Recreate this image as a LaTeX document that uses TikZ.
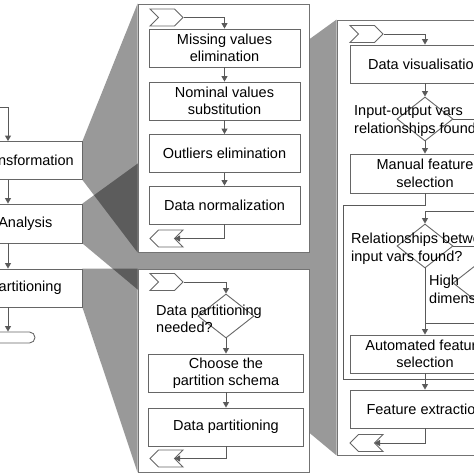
\documentclass[tikz,border=0pt]{standalone}
\usepackage{fontspec}
\setmainfont{Liberation Sans}
\usetikzlibrary{shapes.geometric,shapes.symbols,arrows.meta,backgrounds}
\begin{document}
\begin{tikzpicture}[x=1pt,y=-1pt,
		font=\fontsize{14.5}{17.5}\selectfont,
		box/.style={draw=black!60, line width=0.9pt, fill=white, text=black, minimum height=38pt, align=center, inner sep=0pt},
		panel/.style={draw=black!55, line width=0.9pt, fill=white, inner sep=0pt},
		cond/.style={diamond, draw=black!60, line width=0.9pt, minimum width=56pt, minimum height=44pt, inner sep=0pt},
		qtext/.style={anchor=west, align=left, text=black, inner sep=0pt},
		begsig/.style={signal, signal to=east, signal from=west, draw=black!60, line width=0.9pt, fill=white, minimum width=33pt, minimum height=17pt, inner sep=0pt},
		endsig/.style={signal, signal to=west, signal from=east, draw=black!60, line width=0.9pt, fill=white, minimum width=33pt, minimum height=17pt, inner sep=0pt},
		flow/.style={draw=black!65, line width=0.9pt, -{Triangle[width=6pt,length=5.5pt]}},
		wire/.style={draw=black!65, line width=0.9pt},
		shade/.style={fill=black, fill opacity=0.4}]
		\useasboundingbox (0,0) rectangle (474,474);
		\clip (0,0) rectangle (474,474);

		% main flow
		\node[box, minimum width=148pt] (trans) at (8,160.5) {Data Transformation};
		\node[box, minimum width=148pt, minimum height=39pt] (anal) at (8,223.5) {Data Analysis};
		\node[box, minimum width=148pt] (part) at (8,288) {Data Partitioning};
		\node[draw=black!60, line width=0.9pt, rounded corners=5.5pt, minimum width=54pt, minimum height=11pt, inner sep=0pt] (stop) at (8,337.5) {};
		\coordinate (in0) at (-20,107);
		\draw[flow] (in0) -| (trans.north);
		\draw[flow] (trans) -- (anal);
		\draw[flow] (anal) -- (part);
		\draw[flow] (part) -- (stop);

		% detail panels
		\node[panel, minimum width=171pt, minimum height=248pt] (pan1) at (223.5,128) {};
		\node[panel, minimum width=171pt, minimum height=203pt] (pan2) at (223.5,370.5) {};
		\node[panel, minimum width=200pt, minimum height=435pt] (pan3) at (437,237.5) {};
		\begin{scope}[on background layer]
			\fill[shade] (trans.north east) -- (pan1.north west) -- (pan1.south west) -- (trans.south east) -- cycle;
			\fill[shade] (anal.north east) -- (pan3.north west) -- (pan3.south west) -- (anal.south east) -- cycle;
			\fill[shade] (part.north east) -- (pan2.north west) -- (pan2.south west) -- (part.south east) -- cycle;
		\end{scope}

		% transformation
		\node[begsig] (beg1) at (166.5,17.5) {};
		\node[box, minimum width=151pt] (miss) at (224.5,48) {Missing values\\elimination};
		\node[box, minimum width=151pt] (nomi) at (224.5,101) {Nominal values\\substitution};
		\node[box, minimum width=151pt] (outl) at (224.5,153.5) {Outliers elimination};
		\node[box, minimum width=151pt] (dnorm) at (224.5,205) {Data normalization};
		\node[endsig] (end1) at (166.5,238.5) {};
		\draw[flow] (beg1.east) -| (miss.north);
		\draw[flow] (miss) -- (nomi);
		\draw[flow] (nomi) -- (outl);
		\draw[flow] (outl) -- (dnorm);
		\draw[flow, shorten >=8pt] (dnorm.south) |- (end1.center);

		% partitioning
		\node[begsig] (beg2) at (166.5,282) {};
		\node[cond] (qpart) at (226,316) {};
		\node[qtext] at (156,319) {Data partitioning\\needed?};
		\node[box, minimum width=155pt] (schema) at (226,373) {Choose the\\partition schema};
		\node[box, minimum width=155pt] (dpart) at (226,427) {Data partitioning};
		\node[endsig] (end2) at (166.5,458.5) {};
		\draw[flow] (beg2.east) -| (qpart.north);
		\draw[flow] (qpart) -- (schema);
		\draw[flow] (schema) -- (dpart);
		\draw[flow, shorten >=8pt] (dpart.south) |- (end2.center);

		% analysis
		\node[begsig] (beg3) at (366.5,34) {};
		\node[box, minimum width=150pt] (dvis) at (425,64) {Data visualisation};
		\node[cond] (qio) at (425,119) {};
		\node[qtext] at (354,121) {Input-output vars\\relationships found?};
		\node[box, minimum width=150pt, minimum height=39pt] (manual) at (425,173.5) {Manual feature\\selection};
		\node[cond] (qin) at (425,246) {};
		\node[qtext] at (351,248.5) {Relationships between\\input vars found?};
		\node[cond] (qhigh) at (481,283) {};
		\node[qtext] at (429,290.5) {High\\dimensionality?};
		\node[box, minimum width=150pt] (auto) at (425,354) {Automated feature\\selection};
		\node[box, minimum width=150pt] (fext) at (425,409) {Feature extraction};
		\node[endsig] (end3) at (366.5,443) {};
		\coordinate (ioR) at (500,119);
		\coordinate (lpA) at (343,205);
		\coordinate (lpB) at (343,379);
		\coordinate (lpC) at (500,379);
		\coordinate (back) at (500,211);
		\coordinate (noR) at (500,246);
		\coordinate (yesR) at (500,323);
		\coordinate (join) at (425,323);
		\draw[flow] (beg3.east) -| (dvis.north);
		\draw[flow] (dvis) -- (qio);
		\draw[wire] (qio.east) -- (ioR);
		\draw[flow] (qio) -- (manual);
		\draw[wire] (manual.south) |- (lpA) -- (lpB) -- (lpC);
		\draw[flow] (back) -| (qin.north);
		\draw[wire] (qin.east) -- (noR);
		\draw[flow] (qin.south) -- (auto.north);
		\draw[wire] (yesR) -- (join);
		\draw[flow] (auto) -- (fext);
		\draw[flow, shorten >=8pt] (fext.south) |- (end3.center);
	\end{tikzpicture}
\end{document}
